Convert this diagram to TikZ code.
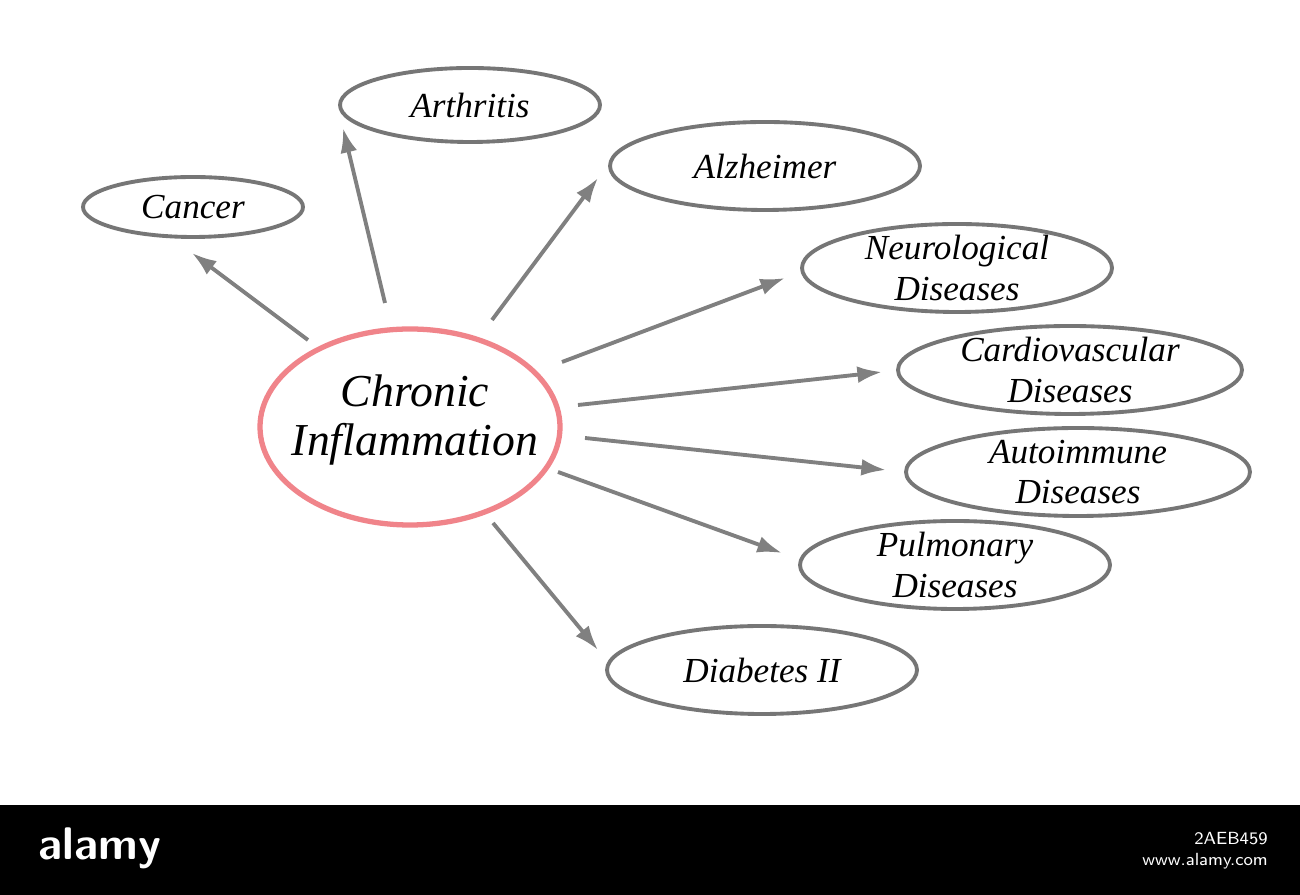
\documentclass[tikz,border=0pt]{standalone}
\usepackage{fontspec}
\setmainfont{Liberation Serif}
\usetikzlibrary{arrows.meta}
\definecolor{ell}{RGB}{118,118,118}
\definecolor{arr}{RGB}{128,128,128}
\definecolor{pinkc}{RGB}{240,132,138}
\newcommand\myell[6]{\draw[ell,line width=1.1pt] (#1,#2) ellipse [x radius=#3,y radius=#4];
  \node[font=\fontsize{10}{11.4}\selectfont\itshape,align=center] (#5) at (#1,#2) {#6};}
\begin{document}
\begin{tikzpicture}[x=0.01cm,y=-0.01cm,
  con/.style={draw=arr,line width=1.1pt,-{Latex[length=7pt,width=4.8pt]}}]
\useasboundingbox (0,0) rectangle (1300,895);
\fill[white] (0,0) rectangle (1300,895);
\fill[black] (0,805) rectangle (1300,895);
\node[white,font=\fontsize{13}{13}\sffamily\bfseries] (wm) at (100,848) {alamy};
\node[white,font=\fontsize{5}{6}\sffamily,align=right] (wm2) at (1205,851) {2AEB459\\www.alamy.com};
\myell{193}{207}{110}{30}{can}{Cancer}
\myell{470}{105}{130}{37}{art}{Arthritis}
\myell{765}{166}{155}{44}{alz}{Alzheimer}
\myell{957}{268}{155}{44}{neu}{Neurological\\Diseases}
\myell{1070}{370}{172}{44}{car}{Cardiovascular\\Diseases}
\myell{1078}{472}{172}{44}{aut}{Autoimmune\\Diseases}
\myell{955}{565}{155}{44}{pul}{Pulmonary\\Diseases}
\myell{762}{670}{155}{44}{dia}{Diabetes II}
\draw[pinkc,line width=1.5pt] (410,427) ellipse [x radius=150,y radius=98];
\node[font=\fontsize{13}{13.7}\selectfont\itshape,align=center] (ci) at (415,420) {Chronic\\Inflammation};
\foreach \n/\sx/\sy/\ex/\ey in {can/308/340/192/253, art/385/303/343/128, alz/492/320/598/178,
  neu/562/362/785/278, car/578/405/882/372, aut/585/438/886/470, pul/558/472/782/553, dia/493/523/598/650}{
  \coordinate (s\n) at (\sx,\sy); \coordinate (e\n) at (\ex,\ey);
  \draw[con] (s\n) -- (e\n);}
\end{tikzpicture}
\end{document}
